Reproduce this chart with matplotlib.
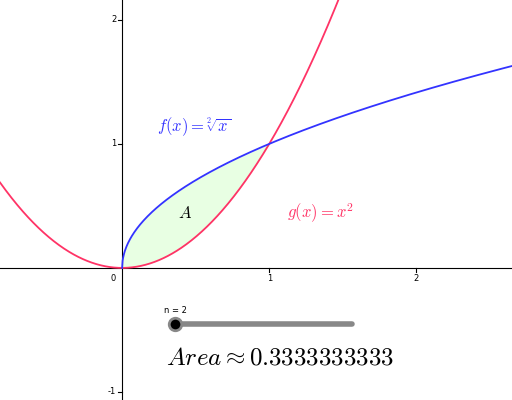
import numpy as np
import matplotlib
matplotlib.use("Agg")
import matplotlib.pyplot as plt
plt.rcParams["mathtext.fontset"] = "cm"

n = 2
area_text = r"$Area \approx 0.3333333333$"
f_label = r"$f(x) = \sqrt[2]{x}$"
g_label = r"$g(x) = x^2$"
xticks = [1, 2]
yticks = [1, 2, -1]

fig = plt.figure(figsize=(5.12, 4.0), dpi=100)
ax = fig.add_axes([0, 0, 1, 1])
xmin, xmax = -0.83, 2.65
ymin, ymax = -1.065, 2.16
ax.set_xlim(xmin, xmax); ax.set_ylim(ymin, ymax)
ax.axis("off")
ax.axhline(0, color="black", lw=0.8)
ax.axvline(0, color="black", lw=0.8)
for t in xticks:
    ax.plot([t, t], [0, -0.03], color="black", lw=0.8)
    ax.text(t, -0.05, str(t), ha="center", va="top", fontsize=6)
for t in yticks:
    ax.plot([0, -0.03], [t, t], color="black", lw=0.8)
    ax.text(-0.04, t, str(t), ha="right", va="center", fontsize=6)
ax.text(-0.04, -0.05, "0", ha="right", va="top", fontsize=6)

xs = np.linspace(xmin, xmax, 800)
ax.plot(xs, xs**2, color="#ff3366", lw=1.3)
xp = np.linspace(0, xmax, 800)
ax.plot(xp, xp**(1/n), color="#3333ff", lw=1.3)
xf = np.linspace(0, 1, 300)
ax.fill_between(xf, xf**2, xf**(1/n), color="#e6ffe0", alpha=0.9, lw=0)
ax.text(0.38, 0.4, r"$A$", fontsize=12)
ax.text(0.24, 1.1, f_label, color="#3333ff", fontsize=12)
ax.text(1.12, 0.4, g_label, color="#ff3366", fontsize=12)

# slider
ax.plot([0.36, 1.56], [-0.45, -0.45], color="#888888", lw=4, solid_capstyle="round")
ax.plot([0.36], [-0.45], "o", color="black", ms=9, mec="#888888", mew=2)
ax.text(0.36, -0.36, f"n = {n}", fontsize=6, ha="center")
ax.text(0.3, -0.78, area_text, fontsize=18)
fig.savefig("out.png", dpi=100)
